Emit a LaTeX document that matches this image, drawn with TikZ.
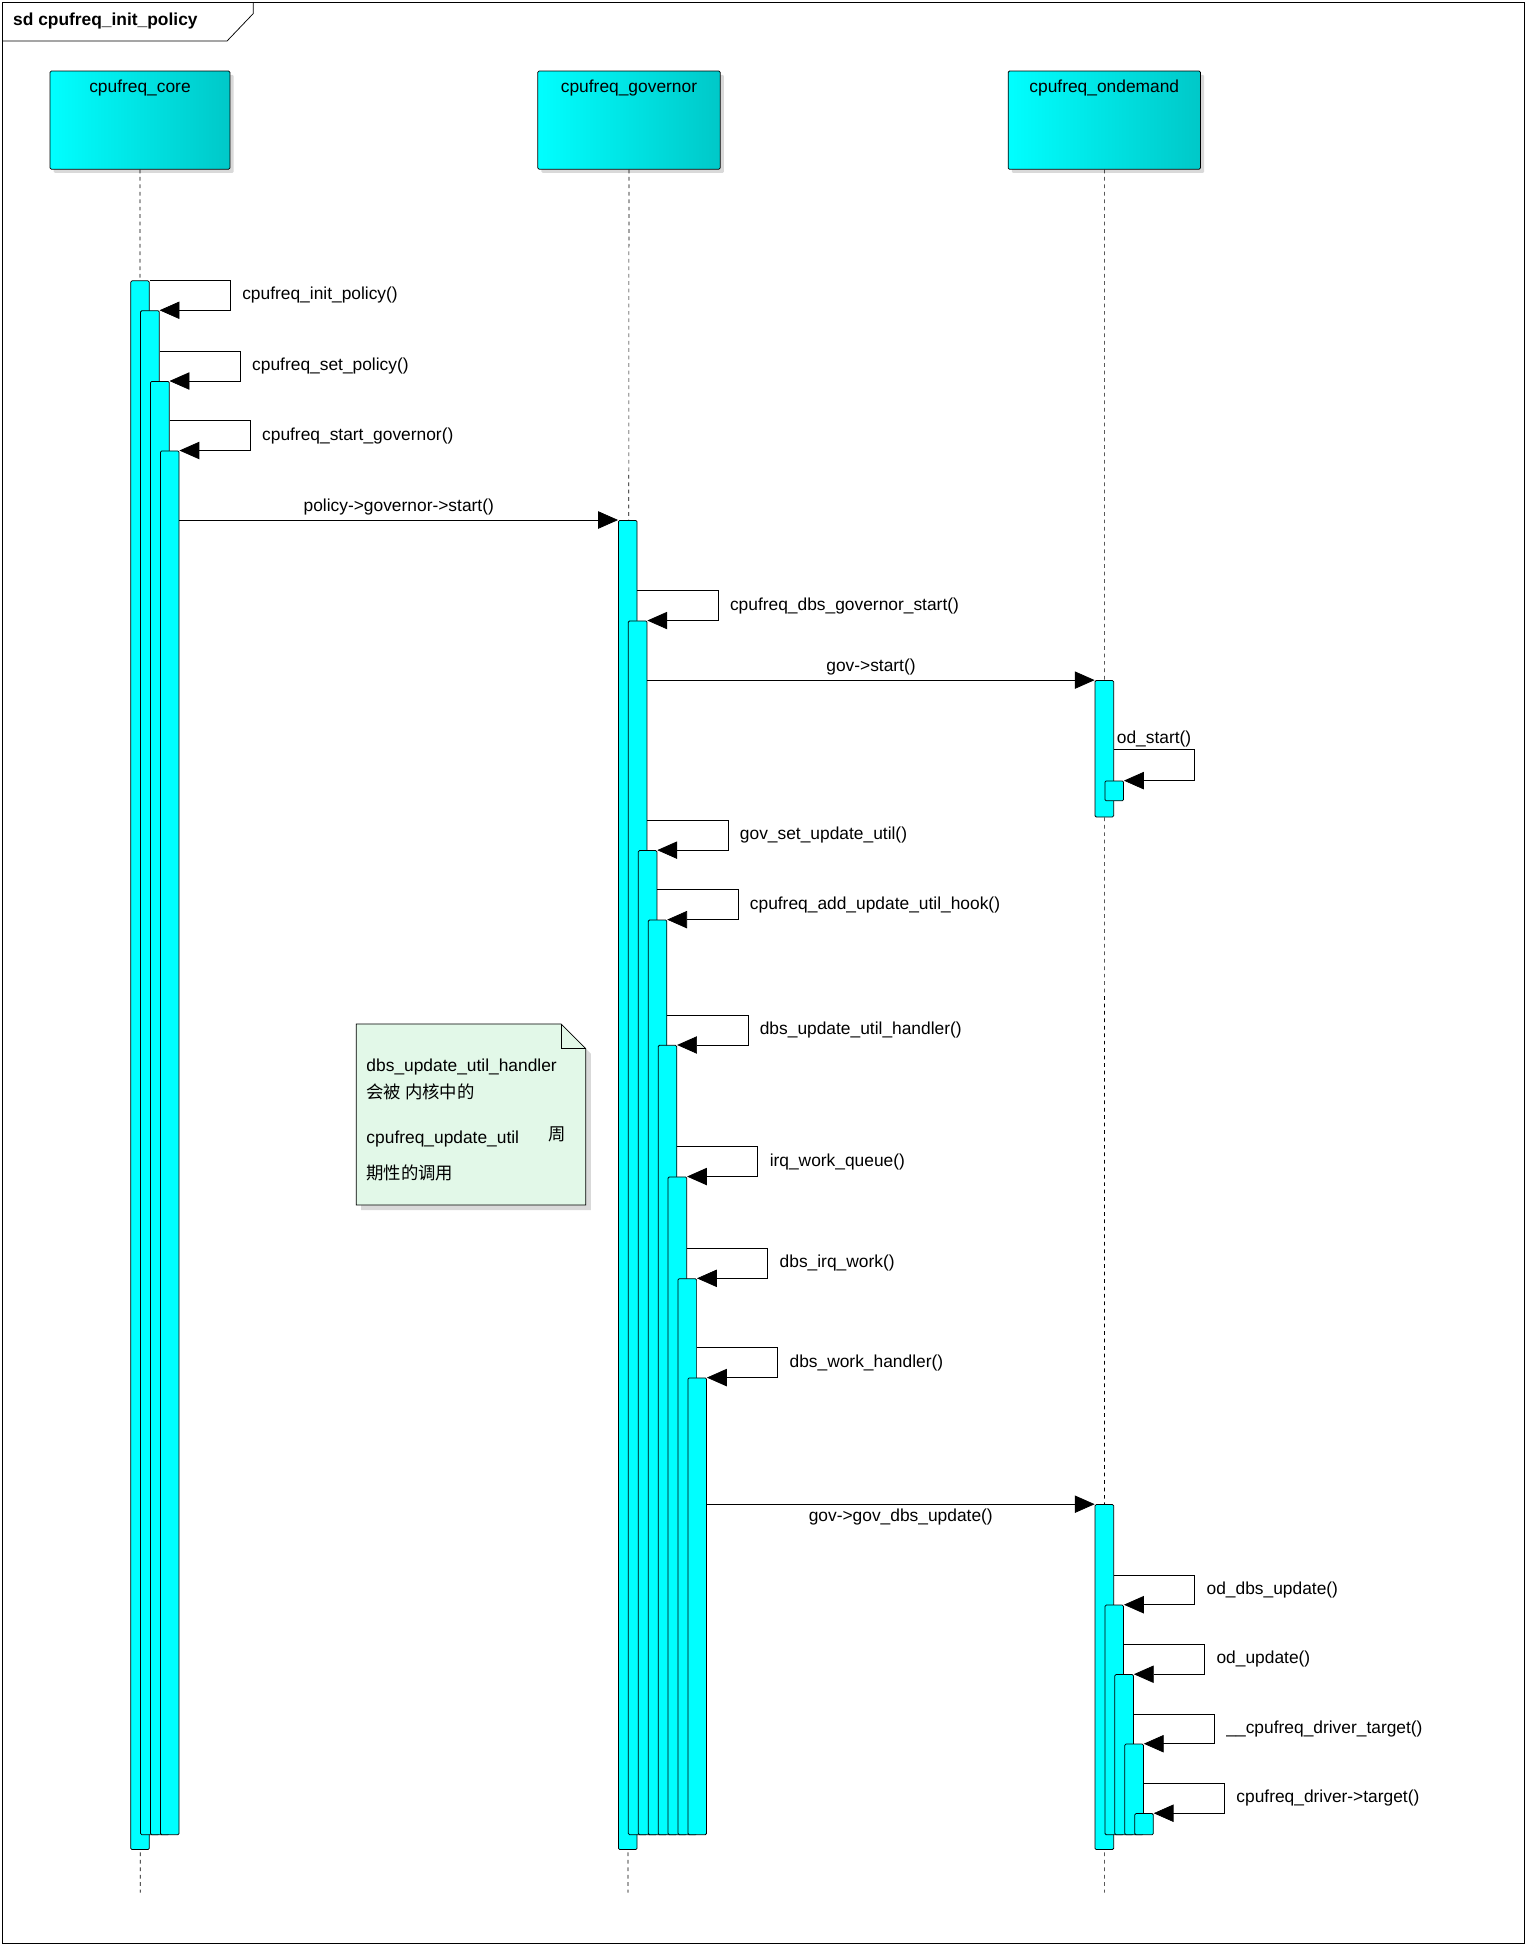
\documentclass[tikz,border=0pt]{standalone}
\usepackage{fontspec}
\setmainfont{Liberation Sans}
\newfontfamily\cjk{Noto Sans CJK SC}
\usetikzlibrary{arrows.meta,shadows}
\definecolor{lifecyan}{RGB}{0,255,255}
\definecolor{lifeteal}{RGB}{0,200,200}
\definecolor{notegreen}{RGB}{226,248,232}
\tikzset{
  every node/.style={font=\fontsize{14}{16}\selectfont},
  lifebox/.style={draw, rounded corners=1pt, minimum width=145, minimum height=79,
    anchor=north west, left color=lifecyan, right color=lifeteal,
    drop shadow={shadow xshift=3pt, shadow yshift=-3pt, fill=black!15, opacity=1}},
  act/.style={draw, fill=lifecyan, rounded corners=1pt, minimum width=15, inner sep=0pt, anchor=north west},
  msg/.style={-{Triangle[length=16pt,width=14pt]}, line width=0.6pt},
  lifeline/.style={dashed, line width=0.5pt},
}
\newcommand{\actbar}[4]{\node[act, minimum height=#4-#3] (#1) at (#2,#3) {};}
\begin{document}
\begin{tikzpicture}[x=1pt,y=-1pt,line width=0.6pt]
 \useasboundingbox (0,0) rectangle (1230,1568);
 % frame and tab
 \draw (2,2) rectangle (1228,1566);
 \draw (2,33) -- (183,33) -- (204,11) -- (204,2);
 \node[anchor=west, font=\bfseries\fontsize{14}{16}\selectfont] (title) at (7,17) {sd cpufreq\_init\_policy};
 % lifelines
 \foreach \n/\x/\w/\t in {core/40/145/cpufreq\_core, gov/433/147/cpufreq\_governor, od/812/155/cpufreq\_ondemand}{
   \node[lifebox, minimum width=\w] (\n) at (\x,57) {};
   \node at ([yshift=-14pt]\n.north) {\t};
 }
 \coordinate (coreend) at (113,1525);
 \coordinate (govend) at (506,1525);
 \coordinate (odend) at (890,1525);
 \draw[lifeline] (core.south) -- (coreend);
 \draw[lifeline] (gov.south) -- (govend);
 \draw[lifeline] (od.south) -- (odend);
 % activations
 \actbar{c1}{105}{226}{1490}
 \actbar{c2}{113}{250}{1478}
 \actbar{c3}{121}{307}{1478}
 \actbar{c4}{129}{363}{1478}
 \actbar{g1}{498}{419}{1490}
 \actbar{g2}{506}{500}{1478}
 \actbar{g3}{514}{685}{1478}
 \actbar{g4}{522}{741}{1478}
 \actbar{g5}{530}{842}{1478}
 \actbar{g6}{538}{948}{1478}
 \actbar{g7}{546}{1030}{1478}
 \actbar{g8}{554}{1110}{1478}
 \actbar{o1}{882}{548}{658}
 \actbar{o2}{890}{629}{645}
 \actbar{o3}{882}{1212}{1490}
 \actbar{o4}{890}{1293}{1478}
 \actbar{o5}{898}{1349}{1478}
 \actbar{o6}{906}{1405}{1478}
 \actbar{o7}{914}{1461}{1478}
 % self calls
 \foreach \a/\b/\w/\t in {c1/c2/65/cpufreq\_init\_policy(), c2/c3/65/cpufreq\_set\_policy(),
   c3/c4/65/cpufreq\_start\_governor(), g1/g2/65/cpufreq\_dbs\_governor\_start(),
   g2/g3/65/gov\_set\_update\_util(), g3/g4/65/cpufreq\_add\_update\_util\_hook(),
   g4/g5/65/dbs\_update\_util\_handler(), g5/g6/65/irq\_work\_queue(),
   g6/g7/65/dbs\_irq\_work(), g7/g8/65/dbs\_work\_handler(),
   o3/o4/65/od\_dbs\_update(), o4/o5/65/od\_update(),
   o5/o6/65/\_\_cpufreq\_driver\_target(), o6/o7/65/cpufreq\_driver->target()}{
   \draw[msg] (\b.north west -| \a.east) ++(0,-24) -- ++(\w,0) -- ++(0,24) -- (\b.north east);
   \node[anchor=west] at ([xshift=\w+6, yshift=12]\b.north west -| \a.east) {\t};
 }
 \draw[msg] (o2.north west -| o1.east) ++(0,-25) coordinate (ods) -- ++(65,0) -- ++(0,25) -- (o2.north east);
 \node[anchor=south west, inner sep=2pt] at (ods) {od\_start()};
 % calls between lifelines
 \draw[msg] (g1.north west -| c4.east) -- node[above] {policy->governor->start()} (g1.north west);
 \draw[msg] (o1.north west -| g2.east) -- node[above] {gov->start()} (o1.north west);
 \draw[msg] (o3.north west -| g8.east) -- node[below] {gov->gov\_dbs\_update()} (o3.north west);
 % note
 \fill[black!15] (291,829) -- (456,829) -- (476,849) -- (476,975) -- (291,975) -- cycle;
 \draw[fill=notegreen] (287,825) -- (452,825) -- (472,845) -- (472,971) -- (287,971) -- cycle;
 \draw (452,825) -- (452,845) -- (472,845);
 \node[anchor=west, inner sep=0pt] (n1) at (295,860) {dbs\_update\_util\_handler};
 \node[anchor=west, inner sep=0pt] (n2) at (295,880) {\cjk 会被 内核中的};
 \node[anchor=west, inner sep=0pt] (n3) at (295,918) {cpufreq\_update\_util};
 \node[anchor=west, inner sep=0pt] (n4) at (442,914) {\cjk 周};
 \node[anchor=west, inner sep=0pt] (n5) at (295,945) {\cjk 期性的调用};
\end{tikzpicture}
\end{document}
